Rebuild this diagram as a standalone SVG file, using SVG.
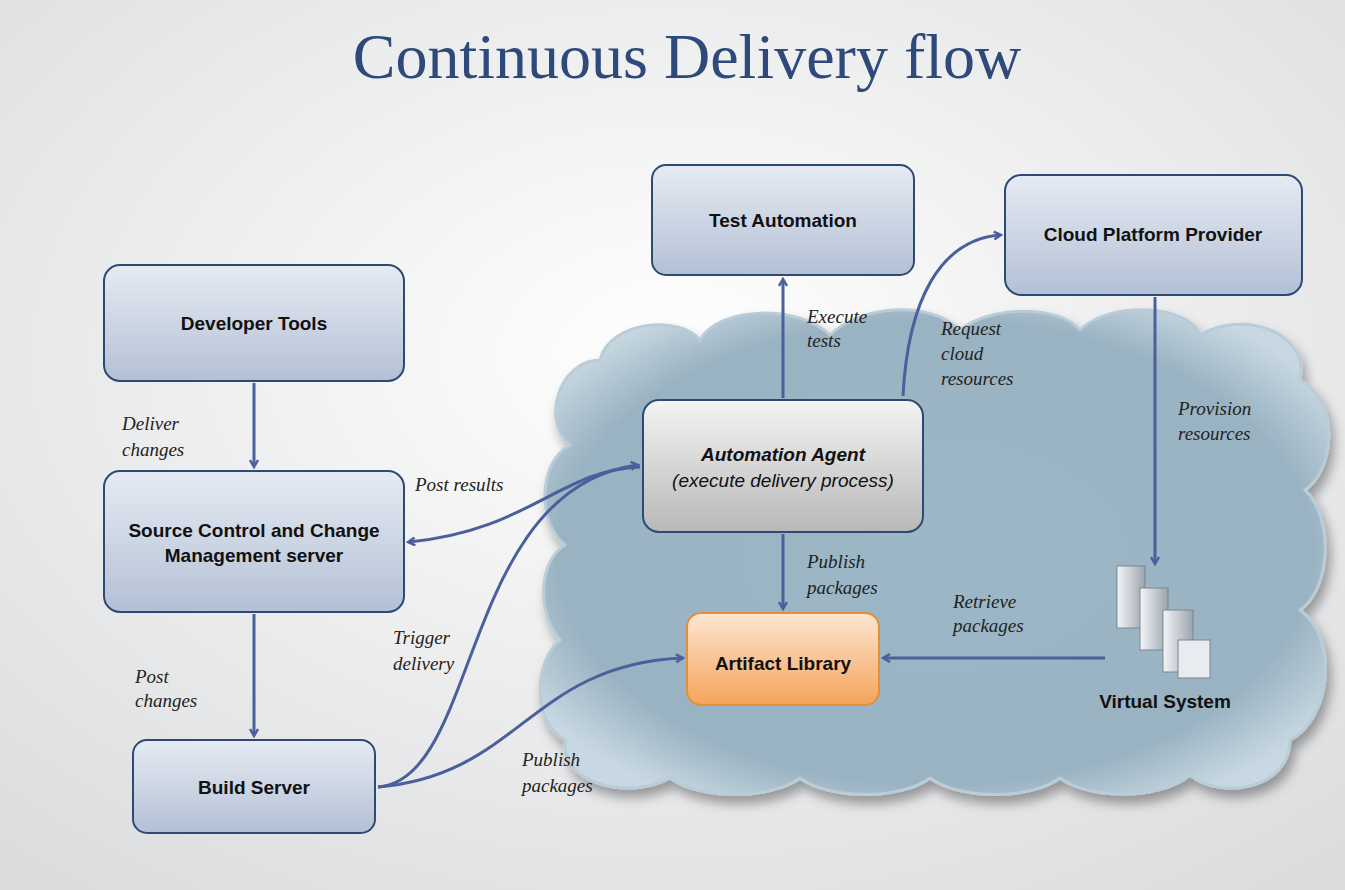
<svg xmlns="http://www.w3.org/2000/svg" width="1345" height="890" viewBox="0 0 1345 890">
<defs>
<radialGradient id="bg" cx="0.5" cy="0.4" r="0.8"><stop offset="0" stop-color="#ffffff"/><stop offset="1" stop-color="#d9dadc"/></radialGradient>
<linearGradient id="nb" x1="0" y1="0" x2="0" y2="1"><stop offset="0" stop-color="#e6ebf3"/><stop offset="1" stop-color="#b3c0d5"/></linearGradient>
<linearGradient id="ng" x1="0" y1="0" x2="0" y2="1"><stop offset="0" stop-color="#f4f4f4"/><stop offset="1" stop-color="#b8b8b8"/></linearGradient>
<linearGradient id="no" x1="0" y1="0" x2="0" y2="1"><stop offset="0" stop-color="#fde6d0"/><stop offset="1" stop-color="#f5a35c"/></linearGradient>
<radialGradient id="cl" cx="0.5" cy="0.5" r="0.6"><stop offset="0" stop-color="#9cb7c6"/><stop offset="0.8" stop-color="#9ab3c2"/><stop offset="1" stop-color="#c8d8e2"/></radialGradient>
<linearGradient id="srv" x1="0" y1="0" x2="1" y2="0"><stop offset="0" stop-color="#f4f6f8"/><stop offset="1" stop-color="#9aa4ae"/></linearGradient>
<filter id="sh" x="-10%" y="-10%" width="120%" height="130%"><feDropShadow dx="4" dy="8" stdDeviation="6" flood-color="#000" flood-opacity="0.35"/></filter>
<marker id="ah" markerWidth="10" markerHeight="10" refX="7" refY="5" orient="auto" markerUnits="userSpaceOnUse" viewBox="0 0 10 10"><path d="M1,1 L8,5 L1,9" fill="none" stroke="#4b5f9c" stroke-width="2.5"/></marker>
</defs>
<style>
.n{stroke:#2d4a73;stroke-width:2}
.t{font-family:"Liberation Sans",Arial,sans-serif;font-weight:bold;font-size:19px;fill:#111;text-anchor:middle}
.l{font-family:"Liberation Serif","Times New Roman",serif;font-style:italic;font-size:19px;fill:#222}
.c{fill:none;stroke:#4b5f9c;stroke-width:3;marker-end:url(#ah)}
</style>
<rect width="1345" height="890" fill="url(#bg)"/>
<text x="687" y="78" font-family="Liberation Serif,serif" font-size="64" fill="#2d4a7a" text-anchor="middle">Continuous Delivery flow</text>
<g id="cloud" filter="url(#sh)">
<path d="M600,360 C610,320 680,315 700,340 C720,305 800,305 830,335 C860,305 930,300 960,330 C990,305 1060,305 1080,330 C1110,300 1190,305 1200,335 C1240,310 1310,330 1300,380 C1340,400 1335,470 1305,490 C1335,520 1330,590 1300,610 C1340,640 1330,720 1290,740 C1290,790 1220,800 1190,775 C1160,800 1090,800 1060,778 C1030,800 960,800 930,778 C900,800 830,800 800,778 C770,800 700,800 670,778 C630,800 560,785 565,740 C530,720 535,660 560,640 C535,610 540,560 565,545 C535,520 540,460 570,445 C540,420 560,360 600,360 Z" fill="url(#cl)" stroke="#b9ccd8" stroke-width="3"/>
</g>
<g id="connectors">
<path class="c" d="M254,383 L254,466"/>
<path class="c" d="M254,614 L254,735"/>
<path class="c" d="M783,398 L783,280"/>
<path class="c" d="M783,534 L783,608"/>
<path class="c" d="M903,396 C908,300 940,240 1000,235"/>
<path class="c" d="M1155,297 L1155,563"/>
<path class="c" d="M1105,658 L884,658"/>
<path class="c" d="M640,467 C560,470 530,530 409,542"/>
<path class="c" d="M378,787 C480,780 460,490 637,465"/>
<path class="c" d="M378,787 C520,775 530,665 682,658"/>
</g>
<g id="developer-tools"><rect class="n" x="104" y="265" width="300" height="116" rx="16" fill="url(#nb)"/><text class="t" x="254" y="330">Developer Tools</text></g>
<g id="source-control"><rect class="n" x="104" y="471" width="300" height="141" rx="16" fill="url(#nb)"/><text class="t" x="254" y="537">Source Control and Change</text><text class="t" x="254" y="562">Management server</text></g>
<g id="build-server"><rect class="n" x="133" y="740" width="242" height="93" rx="14" fill="url(#nb)"/><text class="t" x="254" y="794">Build Server</text></g>
<g id="test-automation"><rect class="n" x="652" y="165" width="262" height="110" rx="14" fill="url(#nb)"/><text class="t" x="783" y="227">Test Automation</text></g>
<g id="cloud-provider"><rect class="n" x="1005" y="175" width="297" height="120" rx="16" fill="url(#nb)"/><text class="t" x="1153" y="241">Cloud Platform Provider</text></g>
<g id="automation-agent"><rect class="n" x="643" y="400" width="280" height="132" rx="16" fill="url(#ng)"/><text class="t" x="783" y="461" style="font-style:italic">Automation Agent</text><text class="t" x="783" y="487" style="font-style:italic;font-weight:normal">(execute delivery process)</text></g>
<g id="artifact-library"><rect x="687" y="613" width="192" height="92" rx="14" fill="url(#no)" stroke="#e0903a" stroke-width="2"/><text class="t" x="783" y="670">Artifact Library</text></g>
<g id="virtual-system">
<rect x="1117" y="566" width="28" height="62" fill="url(#srv)" stroke="#7a8590"/>
<rect x="1140" y="588" width="28" height="62" fill="url(#srv)" stroke="#7a8590"/>
<rect x="1163" y="610" width="30" height="62" fill="url(#srv)" stroke="#7a8590"/>
<rect x="1178" y="640" width="32" height="38" fill="#e8ecf0" stroke="#7a8590"/>
<text class="t" x="1165" y="708">Virtual System</text></g>
<g id="labels">
<text class="l" x="122" y="430">Deliver</text><text class="l" x="122" y="456">changes</text>
<text class="l" x="135" y="683">Post</text><text class="l" x="135" y="707">changes</text>
<text class="l" x="415" y="491">Post results</text>
<text class="l" x="393" y="644">Trigger</text><text class="l" x="393" y="670">delivery</text>
<text class="l" x="522" y="766">Publish</text><text class="l" x="522" y="792">packages</text>
<text class="l" x="807" y="323">Execute</text><text class="l" x="807" y="347">tests</text>
<text class="l" x="941" y="335">Request</text><text class="l" x="941" y="360">cloud</text><text class="l" x="941" y="385">resources</text>
<text class="l" x="1178" y="415">Provision</text><text class="l" x="1178" y="440">resources</text>
<text class="l" x="807" y="568">Publish</text><text class="l" x="807" y="594">packages</text>
<text class="l" x="953" y="608">Retrieve</text><text class="l" x="953" y="632">packages</text>
</g>
</svg>
